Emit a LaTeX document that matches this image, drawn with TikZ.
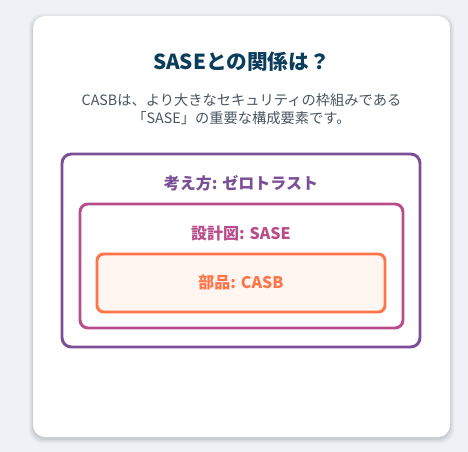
\documentclass[tikz,border=0pt]{standalone}
\usepackage{fontspec}
\setmainfont{Noto Sans CJK JP}
\newfontfamily\jpbold[BoldFont={* Bold}]{Noto Sans CJK JP}
\definecolor{pagebg}{HTML}{EEF2F7}
\definecolor{titlecol}{HTML}{0B3D5C}
\definecolor{subcol}{HTML}{4A5561}
\definecolor{zerocol}{HTML}{7B4F96}
\definecolor{sasecol}{HTML}{B94D8B}
\definecolor{casbcol}{HTML}{FF7547}
\definecolor{casbfill}{HTML}{FFF5F1}

\begin{document}
\begin{tikzpicture}[x=0.75pt,y=0.75pt,yscale=-1,xscale=1,
	layerbox/.style={line width=2.2pt, rounded corners=7pt},
	layerlabel/.style={font=\bfseries\fontsize{12}{14}\selectfont, inner sep=0.75pt}]
	\useasboundingbox (0,0) rectangle (468,452);
	\fill[pagebg] (0,0) rectangle (468,452);
	% card with a soft shadow
	\foreach \s/\o in {4/0.04,2.5/0.05,1/0.06}
		\fill[black, opacity=\o, rounded corners=10pt] (33-\s,16-\s+2) rectangle (450+\s,437+\s+2);
	\fill[white, rounded corners=9pt] (33,16) rectangle (450,437);

	\node (title) at (241.5,62) [font=\bfseries\fontsize{15.5}{18}\selectfont, text=titlecol, inner sep=0.75pt] {SASEとの関係は？};
	\node (sub) at (241.5,109) [font=\fontsize{10.7}{13.7}\selectfont, text=subcol, align=center, inner sep=0.75pt] {CASBは、より大きなセキュリティの枠組みである\\「SASE」の重要な構成要素です。};

	% nested layers
	\draw[layerbox, draw=zerocol] (62,154) rectangle (420,347);
	\draw[layerbox, draw=sasecol, rounded corners=6pt] (80,204) rectangle (403,328);
	\draw[layerbox, draw=casbcol, fill=casbfill, rounded corners=5pt] (97,254) rectangle (385,312);

	\node (zero) at (241,183) [layerlabel, text=zerocol] {考え方: ゼロトラスト};
	\node (sase) at (241,233) [layerlabel, text=sasecol] {設計図: SASE};
	\node (casb) at (241,283) [layerlabel, text=casbcol] {部品: CASB};
\end{tikzpicture}
\end{document}
